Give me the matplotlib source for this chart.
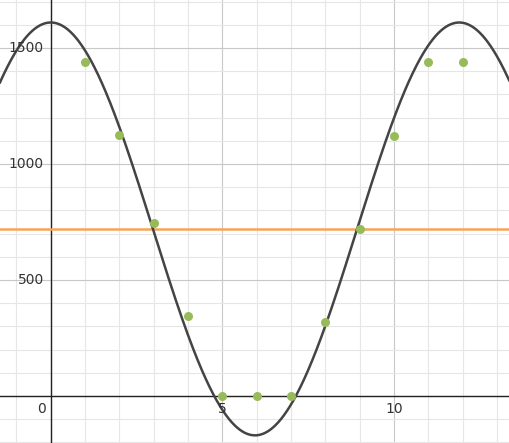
import numpy as np
import matplotlib.pyplot as plt

px = [1, 2, 3, 4, 5, 6, 7, 8, 9, 10, 11, 12]
py = [1440, 1125, 745, 345, 0, 0, 0, 320, 720, 1120, 1440, 1440]
midline = 720
amp = 890
period = 11.9
phase = 0.0

fig = plt.figure(figsize=(5.09, 4.43), dpi=100)
ax = fig.add_axes([0, 0, 1, 1])
xmin, xmax, ymin, ymax = -1.48, 13.35, -203, 1707
ax.set_xlim(xmin, xmax); ax.set_ylim(ymin, ymax)
for v in np.arange(-1, 14, 1):
    ax.axvline(v, color='#e6e6e6' if v % 5 else '#c8c8c8', lw=0.8, zorder=0)
for v in np.arange(-200, 1800, 100):
    ax.axhline(v, color='#e6e6e6' if v % 500 else '#c8c8c8', lw=0.8, zorder=0)
ax.axhline(0, color='#222222', lw=1, zorder=1)
ax.axvline(0, color='#222222', lw=1, zorder=1)
x = np.linspace(xmin, xmax, 800)
ax.plot(x, midline + amp*np.cos(2*np.pi*(x-phase)/period), color='#444444', lw=1.8, zorder=3)
ax.axhline(midline, color='#f8a35a', lw=1.8, zorder=2)
ax.scatter(px, py, s=30, color='#98bb5a', zorder=4)
for v in [5, 10]:
    ax.text(v, -25, str(v), ha='center', va='top', fontsize=10, color='#333333')
ax.text(-0.15, -25, '0', ha='right', va='top', fontsize=10, color='#333333')
for v in [500, 1000, 1500]:
    ax.text(-0.2, v, str(v), ha='right', va='center', fontsize=10, color='#333333')
ax.axis('off')
fig.savefig('out.png', dpi=100)
